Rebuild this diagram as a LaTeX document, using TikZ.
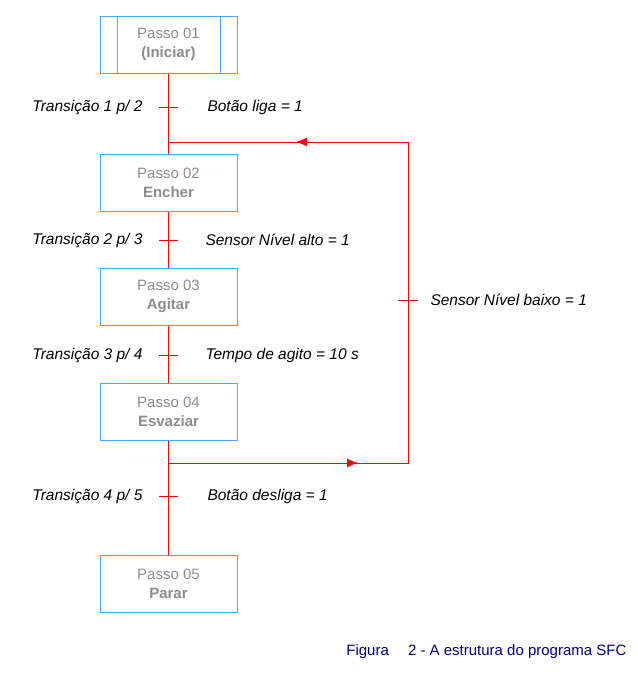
\documentclass[tikz,border=0pt]{standalone}
\usepackage{fontspec}
\setmainfont{Liberation Sans}
\usetikzlibrary{arrows.meta}
\begin{document}
\begin{tikzpicture}[x=1pt,y=-1pt,
  sbox/.style={draw=blue!50!cyan!70!white,line width=1pt,minimum width=137pt,minimum height=57pt,inner sep=0pt,align=center,text=gray!90,font=\fontsize{15}{19}\selectfont},
  ln/.style={draw=red,line width=1pt},
  lab/.style={font=\fontsize{15.5}{18}\selectfont\itshape}]
\useasboundingbox (0,0) rectangle (638,681);
\node[sbox] (s1) at (168.5,44.5) {Passo 01\\\textbf{(Iniciar)}};
\draw[blue!50!cyan!70!white,line width=1pt] (117,16)--(117,73) (220,16)--(220,73);
\node[sbox] (s2) at (168.5,182.5) {Passo 02\\\textbf{Encher}};
\node[sbox] (s3) at (168.5,296.5) {Passo 03\\\textbf{Agitar}};
\node[sbox] (s4) at (168.5,411.5) {Passo 04\\\textbf{Esvaziar}};
\node[sbox] (s5) at (168.5,583.5) {Passo 05\\\textbf{Parar}};
\coordinate (j1) at (168,142);
\coordinate (j2) at (168,463);
\coordinate (r1) at (408,142);
\coordinate (r2) at (408,463);
\draw[ln] (s1.south)--(s2.north) (s2.south)--(s3.north) (s3.south)--(s4.north) (s4.south)--(s5.north);
\draw[ln] (j2)--(r2)--(r1)--(j1);
\draw[ln,-{Latex[length=11pt,width=9pt]}] (j2)--(358,463);
\draw[ln,-{Latex[length=11pt,width=9pt]}] (r1)--(296,142);
\foreach \y in {107,240,355,496} \draw[ln] (159,\y)--(178,\y);
\draw[ln] (398,300)--(418,300);
\node[lab,anchor=east] (t1) at (146,107) {Transição 1 p/ 2};
\node[lab,anchor=east] (t2) at (146,240) {Transição 2 p/ 3};
\node[lab,anchor=east] (t3) at (146,355) {Transição 3 p/ 4};
\node[lab,anchor=east] (t4) at (146,496) {Transição 4 p/ 5};
\node[lab,anchor=west] (c1) at (204,107) {Botão liga = 1};
\node[lab,anchor=west] (c2) at (202,240) {Sensor Nível alto = 1};
\node[lab,anchor=west] (c3) at (202,355) {Tempo de agito = 10 s};
\node[lab,anchor=west] (c4) at (204,496) {Botão desliga = 1};
\node[lab,anchor=west] (c5) at (427,300) {Sensor Nível baixo = 1};
\node[anchor=east,text=blue!50!black,font=\fontsize{15}{18}\selectfont] (cap) at (630,652) {Figura\quad\ 2 - A estrutura do programa SFC};
\end{tikzpicture}
\end{document}
